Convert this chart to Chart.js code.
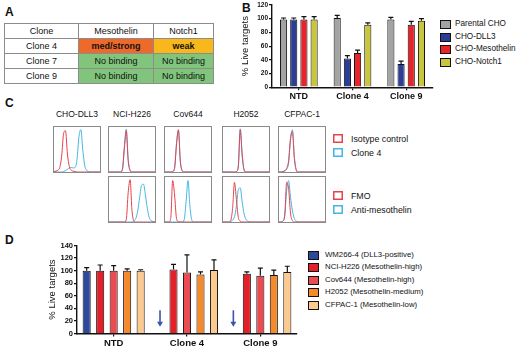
<!DOCTYPE html>
<html>
<head>
<meta charset="utf-8">
<script src="https://cdn.jsdelivr.net/npm/chart.js@4.4.1/dist/chart.umd.min.js"></script>
<style>
  body{margin:0;width:520px;height:348px;position:relative;overflow:hidden;background:#fff;
       font-family:"Liberation Sans",Arial,sans-serif;color:#111}
  .panel{position:absolute;font-weight:bold;font-size:12px}
  #tbl{position:absolute;left:4px;top:23px;border-collapse:collapse;font-size:9px}
  #tbl td{border:1px solid #8c8c8c;text-align:center;padding:0;height:14px;line-height:13px}
  .ctitle{position:absolute;font-size:8.5px;text-align:center;width:60px}
  .hbox{position:absolute;border:1px solid #8a8a8a}
  .leg{position:absolute;font-size:8.2px}
  .leg .row{position:absolute;left:0;white-space:nowrap;height:12px;line-height:12px}
  .leg .sw{position:absolute;left:0;top:2px;width:9px;height:7px;border:1px solid #111}
  .leg .tx{position:absolute;top:0}
  .leg .osw{position:absolute;left:0;top:1px;width:10px;height:9px;background:#fff}
</style>
</head>
<body>
<div class="panel" style="left:5px;top:5px">A</div>
<div class="panel" style="left:242px;top:1px">B</div>
<div class="panel" style="left:5px;top:96px">C</div>
<div class="panel" style="left:5px;top:233px">D</div>

<table id="tbl"></table>
<canvas id="chartB" width="196" height="103" style="position:absolute;left:240px;top:0"></canvas>
<div id="legB" class="leg" style="left:440px;top:18px"></div>
<div id="panelC"></div>
<div id="legC" class="leg" style="left:333px;top:133px;font-size:8.8px"></div>
<canvas id="chartD" width="253" height="110" style="position:absolute;left:47px;top:240px"></canvas>
<div id="legD" class="leg" style="left:308px;top:249px;font-size:7.8px"></div>

<script>
// ---------- Panel A data ----------
const tableHead = ['Clone', 'Mesothelin', 'Notch1'];
const tableRows = [
  ['Clone 4', 'med/strong', 'weak'],
  ['Clone 7', 'No binding', 'No binding'],
  ['Clone 9', 'No binding', 'No binding']
];

// ---------- Panel B data ----------
const bCategories = ['NTD', 'Clone 4', 'Clone 9'];
const bSeries = ['Parental CHO', 'CHO-DLL3', 'CHO-Mesothelin', 'CHO-Notch1'];
const bParental = [99, 101, 99];
const bDll3 = [99, 42, 34];
const bMeso = [99, 50, 91];
const bNotch = [99, 91, 97];
const bParentalErr = [2, 4, 3];
const bDll3Err = [2, 4, 4];
const bMesoErr = [4, 4, 5];
const bNotchErr = [4, 3, 3];

// ---------- Panel C data (histogram counts, % of max) ----------
const cTargets = ['CHO-DLL3', 'NCI-H226', 'Cov644', 'H2052', 'CFPAC-1'];
const cBins = [0,1,2,3,4,5,6,7,8,9,10,11,12,13,14,15,16,17,18,19,20,21,22,23,24];
const isoDll3     = [1,2,4,10,35,85,92,40,12,4,2,1,0,0,0,0,0,0,0,0,0,0,0,0,0];
const clone4Dll3  = [0,0,0,0,0,1,3,6,9,10,9,10,28,78,94,50,15,4,1,0,0,0,0,0,0];
const isoH226     = [0,0,0,0,0,0,0,6,55,92,25,3,0,0,0,0,0,0,0,0,0,0,0,0,0];
const clone4H226  = [0,0,0,0,0,0,0,5,50,95,30,4,0,0,0,0,0,0,0,0,0,0,0,0,0];
const isoCov644   = [0,0,0,0,1,8,60,94,25,3,0,0,0,0,0,0,0,0,0,0,0,0,0,0,0];
const clone4Cov644= [0,0,0,0,1,10,65,92,22,2,0,0,0,0,0,0,0,0,0,0,0,0,0,0,0];
const isoH2052    = [0,0,0,0,0,0,0,1,12,94,40,5,0,0,0,0,0,0,0,0,0,0,0,0,0];
const clone4H2052 = [0,0,0,0,0,0,0,1,15,96,35,4,0,0,0,0,0,0,0,0,0,0,0,0,0];
const isoCfpac    = [0,0,1,3,8,25,75,90,30,4,0,0,0,0,0,0,0,0,0,0,0,0,0,0,0];
const clone4Cfpac = [0,0,1,2,6,20,70,94,35,5,0,0,0,0,0,0,0,0,0,0,0,0,0,0,0];
const fmoH226     = [0,0,0,0,0,0,0,0,0,5,65,94,25,2,0,0,0,0,0,0,0,0,0,0,0];
const antiH226    = [0,0,0,0,0,0,0,0,0,0,0,0,0,2,8,25,55,82,84,60,30,10,3,1,0];
const fmoCov644   = [0,0,0,8,92,60,8,1,0,0,0,0,0,0,0,0,0,0,0,0,0,0,0,0,0];
const antiCov644  = [0,0,0,0,0,0,0,0,0,0,5,45,92,35,4,0,0,0,0,0,0,0,0,0,0];
const fmoH2052    = [0,0,0,0,3,30,88,50,10,2,0,0,0,0,0,0,0,0,0,0,0,0,0,0,0];
const antiH2052   = [0,0,0,0,1,4,12,35,72,76,45,18,6,2,0,0,0,0,0,0,0,0,0,0,0];
const fmoCfpac    = [0,0,2,15,88,75,20,3,0,0,0,0,0,0,0,0,0,0,0,0,0,0,0,0,0];
const antiCfpac   = [0,0,2,15,70,92,55,25,8,2,0,0,0,0,0,0,0,0,0,0,0,0,0,0,0];
const cLegendLabels = ['Isotype control', 'Clone 4', 'FMO', 'Anti-mesothelin'];

// ---------- Panel D data ----------
const dCategories = ['NTD', 'Clone 4', 'Clone 9'];
const dSeries = ['WM266-4 (DLL3-positive)', 'NCI-H226 (Mesothelin-high)', 'Cov644 (Mesothelin-high)',
                 'H2052 (Mesothelin-medium)', 'CFPAC-1 (Mesothelin-low)'];
const dWm266 = [100, 0.6, 0.6];
const dH226 = [100, 102, 95];
const dCov644 = [100, 97, 92];
const dH2052 = [100, 94, 93];
const dCfpac = [100, 101, 98];
const dWm266Err = [5, 0, 0];
const dH226Err = [9, 8, 3];
const dCov644Err = [8, 28, 12];
const dH2052Err = [3, 4, 8];
const dCfpacErr = [1.5, 16, 9];

// ---------- Colours ----------
const bColors = ['#a3a3a3', '#2c3d96', '#e7242a', '#c7c63c'];
const dColors = ['#2d4a9a', '#e3202a', '#ea4c52', '#f58a2b', '#fcc98e'];
const red = '#e6424c', cyan = '#43b6e2';
Chart.defaults.font.family = '"Liberation Sans", Arial, sans-serif';
Chart.defaults.color = '#111';

// ---------- Panel A ----------
const tbl = document.getElementById('tbl');
const colW = [73, 74, 59];
const cellBg = { 'med/strong': '#ee6a2b', 'weak': '#f8b81c', 'No binding': '#80c57b' };
[tableHead].concat(tableRows).forEach((r, ri) => {
  const tr = document.createElement('tr');
  r.forEach((c, ci) => {
    const td = document.createElement('td');
    td.textContent = c;
    td.style.width = colW[ci] + 'px';
    if (ri > 0 && cellBg[c]) td.style.background = cellBg[c];
    if (c === 'med/strong' || c === 'weak') td.style.fontWeight = 'bold';
    tr.appendChild(td);
  });
  tbl.appendChild(tr);
});

// ---------- Legends ----------
function buildLegend(el, labels, colors, tops, textX, outline){
  labels.forEach((l, i) => {
    const row = document.createElement('div');
    row.className = 'row';
    row.style.top = tops[i] + 'px';
    const sw = document.createElement('span');
    if (outline) {
      sw.className = 'osw';
      sw.style.boxShadow = 'inset 0 0 0 1.5px ' + colors[i];
    } else {
      sw.className = 'sw';
      sw.style.background = colors[i];
    }
    const tx = document.createElement('span');
    tx.className = 'tx';
    tx.style.left = textX + 'px';
    tx.textContent = l;
    row.appendChild(sw); row.appendChild(tx);
    el.appendChild(row);
  });
}
buildLegend(document.getElementById('legB'), bSeries, bColors, [0, 12.6, 25.2, 37.8], 15, false);
buildLegend(document.getElementById('legD'), dSeries, dColors, [0, 12.4, 24.8, 37.2, 49.6], 17, false);
buildLegend(document.getElementById('legC'), cLegendLabels, [red, cyan, red, cyan], [0, 13.5, 57, 70.5], 18, true);

// ---------- Plugins ----------
const errorBars = {
  id: 'errorBars',
  afterDatasetsDraw(chart, args, opts){
    const ctx = chart.ctx, y = chart.scales.y;
    ctx.save();
    ctx.strokeStyle = '#111';
    ctx.lineWidth = 1.2;
    chart.data.datasets.forEach((ds, i) => {
      if (!ds.errors) return;
      chart.getDatasetMeta(i).data.forEach((bar, j) => {
        const e = ds.errors[j];
        if (!e) return;
        const top = y.getPixelForValue(ds.data[j] + e);
        ctx.beginPath();
        ctx.moveTo(bar.x, bar.y); ctx.lineTo(bar.x, top);
        ctx.moveTo(bar.x - opts.cap, top); ctx.lineTo(bar.x + opts.cap, top);
        ctx.stroke();
      });
    });
    ctx.restore();
  }
};

// arrows over the (near-zero) WM266-4 bars
const missingArrows = {
  id: 'missingArrows',
  afterDatasetsDraw(chart){
    const ctx = chart.ctx, y = chart.scales.y;
    const ds = chart.data.datasets[0];
    chart.getDatasetMeta(0).data.forEach((bar, j) => {
      if (ds.data[j] > 1) return;
      const y0 = y.getPixelForValue(37), y1 = y.getPixelForValue(11);
      ctx.save();
      ctx.strokeStyle = ctx.fillStyle = '#3a56a6';
      ctx.lineWidth = 1.6;
      ctx.beginPath(); ctx.moveTo(bar.x, y0); ctx.lineTo(bar.x, y1 - 4); ctx.stroke();
      ctx.beginPath(); ctx.moveTo(bar.x - 3, y1 - 5); ctx.lineTo(bar.x + 3, y1 - 5); ctx.lineTo(bar.x, y1); ctx.closePath(); ctx.fill();
      ctx.restore();
    });
  }
};

function barScales(max, tickSize, catSize, yWidth){
  return {
    x: {
      grid: { drawOnChartArea: false, drawTicks: true, tickLength: 3, color: '#111', offset: false, lineWidth: 1.2 },
      border: { color: '#111', width: 1.4 },
      ticks: { color: '#111', font: { size: catSize, weight: 'bold' }, padding: 1 }
    },
    y: {
      min: 0, max: max,
      afterFit(s){ s.width = yWidth; },
      grid: { drawOnChartArea: false, drawTicks: true, tickLength: 3, color: '#111', lineWidth: 1.2 },
      border: { color: '#111', width: 1.4 },
      ticks: { stepSize: 20, color: '#111', font: { size: tickSize, weight: 'bold' }, padding: 1 },
      title: { display: true, text: '% Live targets', color: '#111', font: { size: 9.5 }, padding: { top: 0, bottom: 0 } }
    }
  };
}

// ---------- Panel B ----------
const bValues = [bParental, bDll3, bMeso, bNotch];
const bErrs = [bParentalErr, bDll3Err, bMesoErr, bNotchErr];
new Chart(document.getElementById('chartB'), {
  type: 'bar',
  data: {
    labels: bCategories,
    datasets: bSeries.map((s, i) => ({
      label: s, data: bValues[i], errors: bErrs[i],
      backgroundColor: bColors[i], borderColor: '#111', borderWidth: 1,
      categoryPercentage: 0.76, barPercentage: 0.7
    }))
  },
  options: {
    responsive: false, animation: false,
    layout: { padding: { top: 5, right: 3, left: 0, bottom: 0 } },
    plugins: { legend: { display: false }, tooltip: { enabled: false }, errorBars: { cap: 2.5 } },
    scales: barScales(120, 6.5, 9, 32)
  },
  plugins: [errorBars]
});

// ---------- Panel C ----------
const panelC = document.getElementById('panelC');
const cBoxX = [53, 108, 164, 222, 278];
const cRow1 = [[isoDll3, clone4Dll3], [isoH226, clone4H226], [isoCov644, clone4Cov644],
               [isoH2052, clone4H2052], [isoCfpac, clone4Cfpac]];
const cRow2 = [null, [fmoH226, antiH226], [fmoCov644, antiCov644], [fmoH2052, antiH2052], [fmoCfpac, antiCfpac]];

cTargets.forEach((t, i) => {
  const tt = document.createElement('div');
  tt.className = 'ctitle';
  tt.style.left = (cBoxX[i] + 24 - 30) + 'px';
  tt.style.top = '109px';
  tt.textContent = t;
  panelC.appendChild(tt);
});

function histogram(x, y, pair){
  const box = document.createElement('div');
  box.className = 'hbox';
  box.style.left = x + 'px'; box.style.top = y + 'px';
  box.style.width = '46px'; box.style.height = '45px';
  const cv = document.createElement('canvas');
  cv.width = 46; cv.height = 45;
  box.appendChild(cv);
  panelC.appendChild(box);
  new Chart(cv, {
    type: 'line',
    data: {
      labels: cBins,
      datasets: [
        { data: pair[0], borderColor: red, borderWidth: 1 },
        { data: pair[1], borderColor: cyan, borderWidth: 1 }
      ]
    },
    options: {
      responsive: false, animation: false,
      layout: { padding: 0 },
      elements: { point: { radius: 0 }, line: { tension: 0.4, cubicInterpolationMode: 'monotone' } },
      plugins: { legend: { display: false }, tooltip: { enabled: false } },
      scales: { x: { display: false }, y: { display: false, min: 0, max: 100 } }
    }
  });
}
cRow1.forEach((p, i) => histogram(cBoxX[i], 126, p));
cRow2.forEach((p, i) => { if (p) histogram(cBoxX[i], 176, p); });

// ---------- Panel D ----------
const dValues = [dWm266, dH226, dCov644, dH2052, dCfpac];
const dErrs = [dWm266Err, dH226Err, dCov644Err, dH2052Err, dCfpacErr];
new Chart(document.getElementById('chartD'), {
  type: 'bar',
  data: {
    labels: dCategories,
    datasets: dSeries.map((s, i) => ({
      label: s, data: dValues[i], errors: dErrs[i],
      backgroundColor: dColors[i], borderColor: '#111', borderWidth: 1,
      categoryPercentage: 0.92, barPercentage: 0.6
    }))
  },
  options: {
    responsive: false, animation: false,
    layout: { padding: { top: 5, right: 3, left: 0, bottom: 0 } },
    plugins: { legend: { display: false }, tooltip: { enabled: false }, errorBars: { cap: 2.5 } },
    scales: barScales(140, 7.5, 9.5, 30)
  },
  plugins: [errorBars, missingArrows]
});
</script>
</body>
</html>
